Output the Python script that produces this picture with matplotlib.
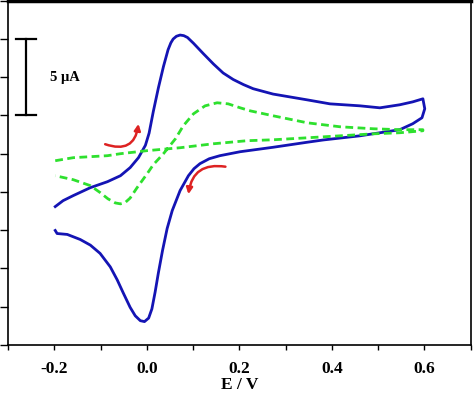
import numpy as np
import matplotlib
matplotlib.use("Agg")
import matplotlib.pyplot as plt
from matplotlib.ticker import MultipleLocator, NullFormatter

# blue CV curve (E / V, I / uA), forward then reverse scan
blue_E = [-0.198, -0.181, -0.159, -0.122, -0.085, -0.057, -0.036, -0.018, -0.003, 0.005,
          0.014, 0.025, 0.036, 0.046, 0.052, 0.057, 0.064, 0.072, 0.080, 0.088,
          0.101, 0.122, 0.144, 0.165, 0.187, 0.209, 0.230, 0.273, 0.347, 0.396,
          0.461, 0.504, 0.547, 0.575, 0.597, 0.601, 0.595, 0.575, 0.547, 0.504,
          0.461, 0.382, 0.347, 0.273, 0.202, 0.158, 0.135, 0.115, 0.102, 0.090,
          0.072, 0.055, 0.044, 0.034, 0.025, 0.018, 0.011, 0.004, -0.005, -0.014,
          -0.025, -0.036, -0.051, -0.064, -0.079, -0.101, -0.122, -0.144, -0.172, -0.194,
          -0.198]
blue_I = [-3.46, -3.07, -2.74, -2.22, -1.83, -1.44, -0.91, -0.26, 0.55, 1.35,
          2.75, 4.30, 5.70, 6.80, 7.25, 7.50, 7.68, 7.76, 7.72, 7.60,
          7.22, 6.55, 5.87, 5.28, 4.85, 4.52, 4.25, 3.90, 3.52, 3.26,
          3.13, 3.00, 3.20, 3.39, 3.59, 2.94, 2.35, 1.96, 1.57, 1.37,
          1.17, 0.90, 0.75, 0.42, 0.13, -0.13, -0.33, -0.65, -0.98, -1.44,
          -2.41, -3.72, -4.89, -6.33, -7.80, -9.05, -10.15, -10.75, -10.98, -10.92,
          -10.60, -10.05, -9.10, -8.25, -7.40, -6.52, -5.98, -5.61, -5.28, -5.22,
          -5.02]

# green dashed curve: flat branch left->right, then peaked branch right->left
green_E = [-0.198, -0.159, -0.085, -0.057, 0.001, 0.072, 0.144, 0.217, 0.273, 0.347,
           0.418, 0.490, 0.547, 0.597,
           0.597, 0.547, 0.490, 0.418, 0.347, 0.273, 0.224, 0.202, 0.176, 0.152,
           0.126, 0.101, 0.079, 0.062, 0.036, 0.014, 0.001, -0.021, -0.036, -0.047,
           -0.057, -0.068, -0.084, -0.101, -0.122, -0.159, -0.198]
green_I = [-0.46, -0.26, -0.13, 0.00, 0.20, 0.39, 0.65, 0.85, 0.91, 1.04,
           1.17, 1.30, 1.37, 1.50,
           1.57, 1.57, 1.63, 1.76, 2.02, 2.48, 2.80, 3.00, 3.26, 3.33,
           3.13, 2.61, 1.83, 0.98, 0.00, -0.72, -1.30, -2.22, -2.90, -3.20,
           -3.28, -3.22, -2.95, -2.54, -2.09, -1.70, -1.44]

x_ticks = [-0.2, 0.0, 0.2, 0.4, 0.6]
x_labels = ['-0.2', '0.0', '0.2', '0.4', '0.6']
bar_low, bar_high = 2.5, 7.5  # 5 uA scale bar

serif = ['Liberation Serif', 'DejaVu Serif']

fig = plt.figure(figsize=(4.74, 3.95), dpi=100)
ax = fig.add_axes([0.017, 0.127, 0.9757, 0.871])

ax.plot(blue_E, blue_I, color='#1414b4', lw=2.0, solid_joinstyle='round')
ax.plot(green_E, green_I, color='#2ee02e', lw=2.0, linestyle=(0, (2.8, 1.6)))

# scale bar
bx = -0.261
ax.plot([bx, bx], [bar_low, bar_high], color='black', lw=1.6)
ax.plot([bx - 0.021, bx + 0.021], [bar_low, bar_low], color='black', lw=1.6)
ax.plot([bx - 0.021, bx + 0.021], [bar_high, bar_high], color='black', lw=1.6)
ax.text(-0.210, (bar_low + bar_high) / 2, '5 \u03bcA', fontsize=10.5, fontweight='bold',
        family=serif, va='center', ha='left')

# scan direction arrows
ax.annotate('', xy=(-0.018, 1.95), xytext=(-0.090, 0.62),
            arrowprops=dict(arrowstyle='-|>', color='#dd2222', lw=1.8, mutation_scale=9,
                            connectionstyle='arc3,rad=0.6', shrinkA=0, shrinkB=0))
ax.annotate('', xy=(0.090, -2.65), xytext=(0.170, -0.85),
            arrowprops=dict(arrowstyle='-|>', color='#dd2222', lw=1.8, mutation_scale=9,
                            connectionstyle='arc3,rad=0.5', shrinkA=0, shrinkB=0))

ax.set_xlim(-0.3, 0.7)
ax.set_ylim(-12.5, 10)
ax.set_xticks(x_ticks)
ax.set_xticklabels(x_labels, fontsize=12.5, fontweight='bold', family=serif)
ax.xaxis.set_minor_locator(MultipleLocator(0.1))
ax.yaxis.set_major_locator(MultipleLocator(2.5))
ax.yaxis.set_major_formatter(NullFormatter())
ax.tick_params(axis='x', which='both', direction='out', length=3.5, width=1, pad=8)
ax.tick_params(axis='y', which='major', direction='out', length=6, width=1)
ax.set_xlabel('E / V', fontsize=12.5, fontweight='bold', family=serif, labelpad=0)

for s in ax.spines.values():
    s.set_linewidth(1.2)
ax.spines['top'].set_linewidth(2.5)

fig.savefig('out.png', dpi=100)
